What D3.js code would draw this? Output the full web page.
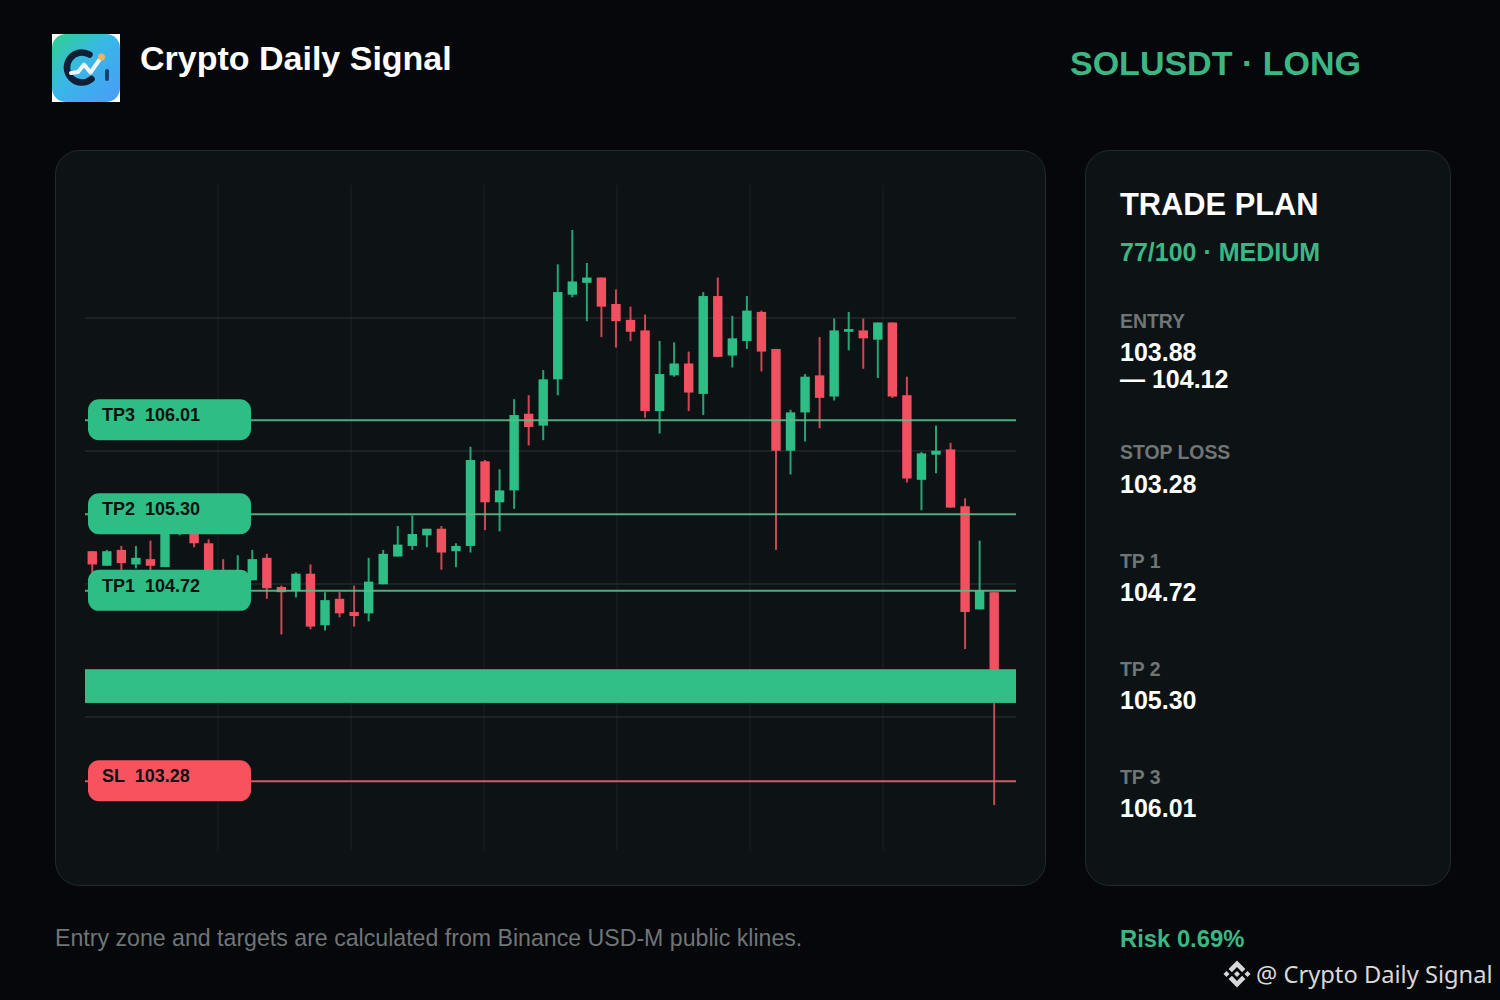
<!DOCTYPE html>
<html>
<head>
<meta charset="utf-8">
<script src="https://cdn.jsdelivr.net/npm/d3@7"></script>
<style>
  html, body { margin: 0; padding: 0; background: #05070a; }
  svg { display: block; }
  text { font-family: "Liberation Sans", Arial, sans-serif; }
</style>
</head>
<body>
<svg></svg>
<script>
let opens = [105.02,104.91,105.03,104.92,104.96,104.90,105.20,105.27,105.08,104.84,104.71,104.80,104.97,104.75,104.72,104.85,104.46,104.66,104.56,104.55,104.77,104.98,105.06,105.14,105.19,105.02,105.06,105.70,105.39,105.48,106.06,105.97,106.32,106.96,107.05,107.09,106.89,106.77,106.69,106.08,106.35,106.44,106.21,106.95,106.50,106.61,106.83,106.55,105.78,106.07,106.35,106.19,106.68,106.69,106.62,106.75,106.20,105.56,105.75,105.79,105.36,104.58,104.71];
let highs = [105.02,105.03,105.06,105.06,105.10,105.29,105.40,105.31,105.11,104.96,104.99,105.03,105.00,104.76,104.86,104.92,104.71,104.71,104.76,104.97,105.03,105.21,105.29,105.19,105.21,105.08,105.81,105.71,105.64,106.17,106.20,106.39,107.19,107.45,107.20,107.09,107.00,106.87,106.81,106.61,106.60,106.53,106.98,107.09,106.80,106.95,106.84,106.55,106.09,106.36,106.64,106.78,106.83,106.78,106.75,106.75,106.34,105.77,105.97,105.84,105.42,105.10,104.71];
let lows = [104.85,104.91,104.86,104.89,104.86,104.90,105.14,105.05,104.73,104.70,104.66,104.80,104.66,104.39,104.67,104.43,104.42,104.52,104.45,104.49,104.77,104.98,105.03,105.05,104.88,104.90,105.01,105.18,105.17,105.34,105.82,105.86,106.20,106.94,106.76,106.64,106.56,106.61,106.03,105.91,106.34,106.08,106.05,106.49,106.41,106.55,106.38,105.03,105.60,105.85,105.95,106.16,106.54,106.40,106.33,106.18,105.54,105.33,105.61,105.35,104.28,104.58,103.10];
let closes = [104.92,105.02,104.93,104.97,104.91,105.26,105.37,105.08,104.77,104.74,104.86,104.96,104.74,104.71,104.85,104.45,104.65,104.55,104.53,104.79,105.00,105.07,105.15,105.19,105.01,105.06,105.71,105.39,105.48,106.05,105.96,106.32,106.98,107.06,107.09,106.87,106.76,106.68,106.08,106.36,106.44,106.22,106.95,106.49,106.63,106.84,106.53,105.78,106.07,106.34,106.18,106.69,106.70,106.63,106.75,106.19,105.57,105.76,105.78,105.35,104.56,104.72,103.97];

let targetNames = ['TP3','TP2','TP1','SL'];
let targetPrices = [106.01,105.30,104.72,103.28];
let entryZone = [103.88,104.12];
let planLabels = ['ENTRY','STOP LOSS','TP 1','TP 2','TP 3'];
let planValues = ['103.88','103.28','104.72','105.30','106.01'];

const green = '#2ebd85', red = '#f0505f', textGreen = '#3cb784';

let svg = d3.select('svg').attr('width', 1500).attr('height', 1000);

svg.append('rect').attr('width', 1500).attr('height', 1000).attr('fill', '#05070a');

// cards
svg.append('rect').attr('x', 55.5).attr('y', 150.5).attr('width', 990).attr('height', 735).attr('rx', 24)
   .attr('fill', '#0d1315').attr('stroke', '#232a2c');
svg.append('rect').attr('x', 1085.5).attr('y', 150.5).attr('width', 365).attr('height', 735).attr('rx', 24)
   .attr('fill', '#0d1315').attr('stroke', '#232a2c');

// scales
let x = d3.scaleLinear().domain([-0.5, 63.5]).range([85, 1016]);
let y = d3.scaleLinear().domain([102.76, 107.79]).range([850, 185]);
let gridX = d3.scaleLinear().domain([0, 7]).range([85, 1016]);
let gridY = d3.scaleLinear().domain([0, 5]).range([185, 850]);

// grid
svg.append('g').selectAll('line').data([1,2,3,4,5,6]).enter().append('line')
   .attr('x1', d => gridX(d)).attr('x2', d => gridX(d))
   .attr('y1', 185).attr('y2', 850)
   .attr('stroke', '#1b2224');
svg.append('g').selectAll('line').data([1,2,3,4]).enter().append('line')
   .attr('x1', 85).attr('x2', 1016)
   .attr('y1', d => gridY(d)).attr('y2', d => gridY(d))
   .attr('stroke', '#2e3436');

// candles
let candle = svg.append('g').selectAll('g').data(opens).enter().append('g')
   .attr('fill', (d, i) => closes[i] >= d ? green : red)
   .attr('stroke', (d, i) => closes[i] >= d ? green : red);
candle.append('line')
   .attr('x1', (d, i) => x(i)).attr('x2', (d, i) => x(i))
   .attr('y1', (d, i) => y(highs[i])).attr('y2', (d, i) => y(lows[i]))
   .attr('stroke-width', 2).attr('stroke-opacity', 0.85);
candle.append('rect')
   .attr('x', (d, i) => x(i) - 4.7).attr('width', 9.4)
   .attr('y', (d, i) => y(Math.max(d, closes[i])))
   .attr('height', (d, i) => Math.abs(y(d) - y(closes[i])))
   .attr('stroke', 'none');

// target lines
svg.append('g').selectAll('line').data(targetPrices).enter().append('line')
   .attr('x1', 85).attr('x2', 1016)
   .attr('y1', d => y(d)).attr('y2', d => y(d))
   .attr('stroke', (d, i) => targetNames[i] == 'SL' ? '#e8626e' : '#5abb8a')
   .attr('stroke-width', 2).attr('stroke-opacity', 0.9);

// entry zone
svg.append('rect')
   .attr('x', 85).attr('width', 931)
   .attr('y', y(entryZone[1]) - 1).attr('height', y(entryZone[0]) - y(entryZone[1]) + 2)
   .attr('fill', '#30be84');

// target labels
let tag = svg.append('g').selectAll('g').data(targetPrices).enter().append('g');
tag.append('rect')
   .attr('x', 88).attr('width', 163)
   .attr('y', d => y(d) - 21).attr('height', 41).attr('rx', 11)
   .attr('fill', (d, i) => targetNames[i] == 'SL' ? '#f8525f' : green);
tag.append('text')
   .attr('x', 102).attr('y', d => y(d) + 1)
   .attr('font-size', 18).attr('font-weight', 'bold').attr('fill', '#0a1210')
   .style('white-space', 'pre')
   .text((d, i) => targetNames[i] + '  ' + d.toFixed(2));

// header
let defs = svg.append('defs');
let grad = defs.append('linearGradient').attr('id', 'logoGrad')
   .attr('x1', 0).attr('y1', 0).attr('x2', 1).attr('y2', 1);
grad.append('stop').attr('offset', 0).attr('stop-color', '#2fd08a');
grad.append('stop').attr('offset', 0.45).attr('stop-color', '#38b8e6');
grad.append('stop').attr('offset', 1).attr('stop-color', '#4a9bf8');

let logo = svg.append('g').attr('transform', 'translate(52,34)');
logo.append('rect').attr('width', 68).attr('height', 68).attr('fill', '#fff');
logo.append('rect').attr('width', 68).attr('height', 68).attr('rx', 14).attr('fill', 'url(#logoGrad)');
logo.append('path').attr('d', 'M37.5 20.5 A15 15 0 1 0 39.5 45').attr('fill', 'none')
   .attr('stroke', '#0f1f38').attr('stroke-width', 6.5).attr('stroke-linecap', 'round');
logo.append('path').attr('d', 'M19 39 L26 38 L32 30.5 L38.5 38.5 L48 25').attr('fill', 'none')
   .attr('stroke', '#eef6fb').attr('stroke-width', 4).attr('stroke-linejoin', 'round').attr('stroke-linecap', 'round');
logo.append('circle').attr('cx', 49.5).attr('cy', 23).attr('r', 3.5).attr('fill', '#f5b45a');
logo.append('rect').attr('x', 53).attr('y', 35).attr('width', 4).attr('height', 12).attr('rx', 2).attr('fill', '#17406e');

svg.append('text').attr('x', 140).attr('y', 70)
   .attr('font-size', 34).attr('font-weight', 'bold').attr('fill', '#fff')
   .text('Crypto Daily Signal');
svg.append('text').attr('x', 1070).attr('y', 75)
   .attr('font-size', 34).attr('font-weight', 'bold').attr('fill', textGreen)
   .text('SOLUSDT · LONG');

// trade plan
svg.append('text').attr('x', 1120).attr('y', 215)
   .attr('font-size', 30.8).attr('font-weight', 'bold').attr('fill', '#fff')
   .text('TRADE PLAN');
svg.append('text').attr('x', 1120).attr('y', 261)
   .attr('font-size', 25).attr('font-weight', 'bold').attr('fill', textGreen)
   .text('77/100 · MEDIUM');

let labelY = [328, 459, 568, 676, 784];
let valueY = [360.5, 492.5, 600.5, 708.5, 816.5];
let plan = svg.append('g').selectAll('g').data(planLabels).enter().append('g');
plan.append('text').attr('x', 1120).attr('y', (d, i) => labelY[i])
   .attr('font-size', 19.4).attr('font-weight', 'bold').attr('fill', '#707576')
   .text(d => d);
plan.append('text').attr('x', 1120).attr('y', (d, i) => valueY[i])
   .attr('font-size', 25).attr('font-weight', 'bold').attr('fill', '#fff')
   .text((d, i) => planValues[i]);
svg.append('text').attr('x', 1120).attr('y', 387.5)
   .attr('font-size', 25).attr('font-weight', 'bold').attr('fill', '#fff')
   .text('— 104.12');

// footer
svg.append('text').attr('x', 55).attr('y', 946)
   .attr('font-size', 23.15).attr('fill', '#707576')
   .text('Entry zone and targets are calculated from Binance USD-M public klines.');
svg.append('text').attr('x', 1120).attr('y', 947)
   .attr('font-size', 23.8).attr('font-weight', 'bold').attr('fill', textGreen)
   .text('Risk 0.69%');

// watermark
let mark = svg.append('g').attr('transform', 'translate(1219,956) scale(1.5)').attr('fill', '#d8d8d8');
mark.append('path').attr('d', 'M12 3 L17.6 8.6 L15.4 10.8 L12 7.4 L8.6 10.8 L6.4 8.6 Z');
mark.append('path').attr('d', 'M12 21 L17.6 15.4 L15.4 13.2 L12 16.6 L8.6 13.2 L6.4 15.4 Z');
mark.append('path').attr('d', 'M12 10 L14 12 L12 14 L10 12 Z');
mark.append('path').attr('d', 'M5 10 L7 12 L5 14 L3 12 Z');
mark.append('path').attr('d', 'M19 10 L21 12 L19 14 L17 12 Z');
svg.append('text').attr('x', 1256).attr('y', 983)
   .style('font-family', '"Noto Sans", sans-serif')
   .attr('font-size', 23.7).attr('fill', '#d8d8d8')
   .text('@ Crypto Daily Signal');
</script>
</body>
</html>
